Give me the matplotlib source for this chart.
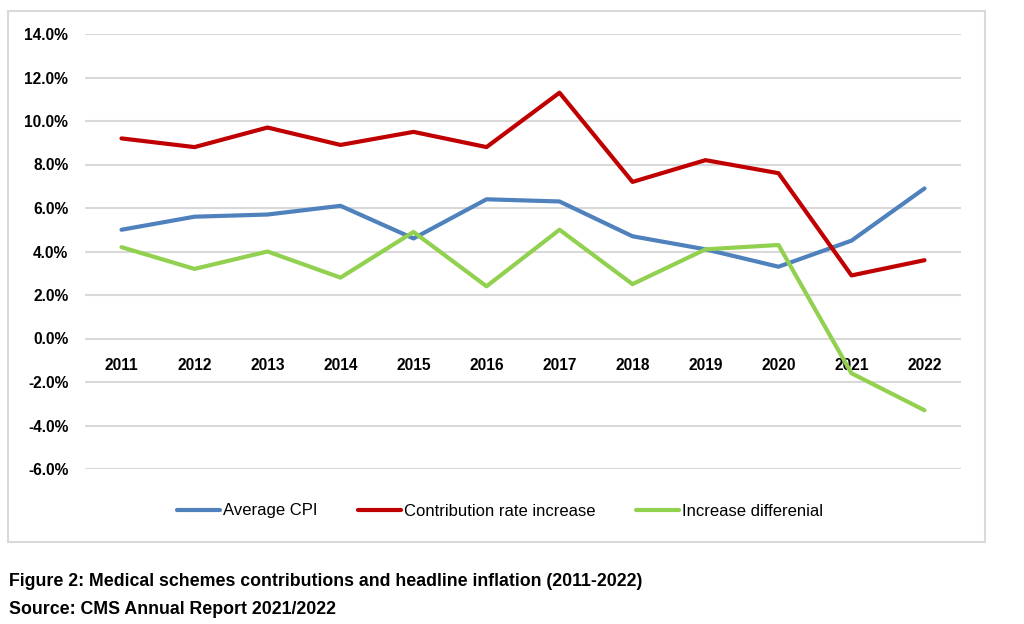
import matplotlib.pyplot as plt
from matplotlib.patches import Rectangle
from matplotlib.ticker import FuncFormatter

years = ['2011', '2012', '2013', '2014', '2015', '2016',
         '2017', '2018', '2019', '2020', '2021', '2022']
avg_cpi = [5.0, 5.6, 5.7, 6.1, 4.6, 6.4, 6.3, 4.7, 4.1, 3.3, 4.5, 6.9]
contrib = [9.2, 8.8, 9.7, 8.9, 9.5, 8.8, 11.3, 7.2, 8.2, 7.6, 2.9, 3.6]
differential = [4.2, 3.2, 4.0, 2.8, 4.9, 2.4, 5.0, 2.5, 4.1, 4.3, -1.6, -3.3]
yticks = [-6, -4, -2, 0, 2, 4, 6, 8, 10, 12, 14]

plt.rcParams['font.family'] = ['Liberation Sans', 'DejaVu Sans']

fig = plt.figure(figsize=(10.24, 6.24), dpi=100)
fig.patches.append(Rectangle((8 / 1024, 1 - 542 / 624), 977 / 1024, 531 / 624,
                             transform=fig.transFigure, fill=False,
                             edgecolor='#D9D9D9', linewidth=1.5))

ax = fig.add_axes([85 / 1024, 1 - 469 / 624, 876 / 1024, 435 / 624])
x = range(len(years))
ax.plot(x, avg_cpi, color='#4F81BD', lw=3, label='Average CPI',
        solid_capstyle='round', zorder=3)
ax.plot(x, contrib, color='#C00000', lw=3, label='Contribution rate increase',
        solid_capstyle='round', zorder=3)
ax.plot(x, differential, color='#92D050', lw=3, label='Increase differenial',
        solid_capstyle='round', zorder=3)

ax.set_xlim(-0.5, len(years) - 0.5)
ax.set_ylim(-6, 14)
ax.set_yticks(yticks)
ax.yaxis.set_major_formatter(FuncFormatter(lambda v, p: f'{v:.1f}%'))
ax.set_xticks(list(x))
ax.set_xticklabels(years)
ax.grid(axis='y', color='#D9D9D9', lw=1.5)
ax.set_axisbelow(True)
for s in ax.spines.values():
    s.set_visible(False)
ax.spines['bottom'].set_position(('data', 0))
ax.tick_params(axis='both', length=0, labelsize=11.2)
ax.tick_params(axis='x', pad=14)
ax.tick_params(axis='y', pad=12)
for lab in ax.get_xticklabels() + ax.get_yticklabels():
    lab.set_fontweight('bold')

fig.legend(loc='center', bbox_to_anchor=(500 / 1024, 1 - 511 / 624), ncol=3,
           frameon=False, fontsize=12, handlelength=2.6, columnspacing=2.4,
           handletextpad=0.2)

fig.text(9 / 1024, 1 - 582 / 624, 'Figure 2: Medical schemes contributions and headline inflation (2011-2022)',
         fontsize=12.8, fontweight='bold', va='center')
fig.text(9 / 1024, 1 - 609 / 624, 'Source: CMS Annual Report 2021/2022',
         fontsize=12.8, fontweight='bold', va='center')

fig.savefig('out.png', dpi=100)
